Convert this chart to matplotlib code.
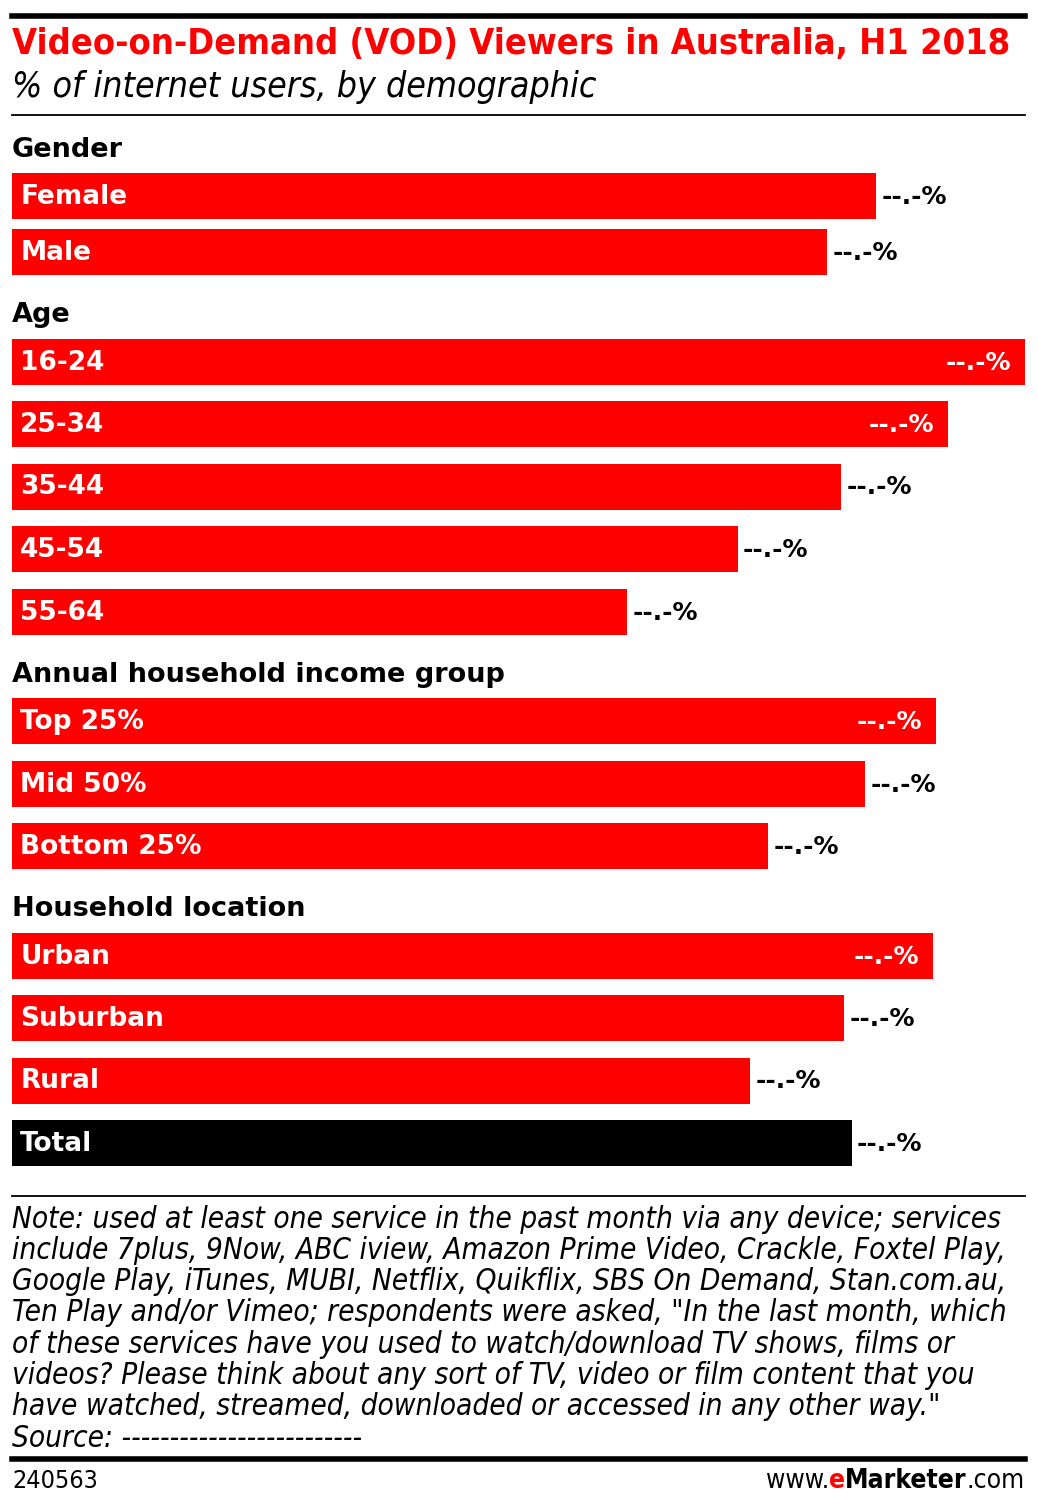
import matplotlib.pyplot as plt

# data
groups = ['Gender', 'Age', 'Annual household income group', 'Household location']
group_labels = [
    ['Female', 'Male'],
    ['16-24', '25-34', '35-44', '45-54', '55-64'],
    ['Top 25%', 'Mid 50%', 'Bottom 25%'],
    ['Urban', 'Suburban', 'Rural'],
]
group_values = [
    [68.2, 64.4],
    [80.0, 73.9, 65.5, 57.3, 48.6],
    [73.0, 67.4, 59.7],
    [72.7, 65.7, 58.3],
]
total_label = 'Total'
total_value = 66.3
value_text = '--.-%'

W, H = 1038, 1508
red = '#ff0000'
narrow = ['Liberation Sans Narrow', 'DejaVu Sans']

fig = plt.figure(figsize=(W / 100, H / 100), dpi=100)
r = fig.canvas.get_renderer()


def fit(t, width_px):
    # shrink a text so it spans width_px (no condensed font available)
    w = t.get_window_extent(r).width
    t.set_fontsize(t.get_fontsize() * width_px / w)


# title block
fig.add_artist(plt.Line2D([12 / W, 1025 / W], [1 - 16 / H] * 2, color='black', lw=4))
t = fig.text(12 / W, 1 - 44 / H, 'Video-on-Demand (VOD) Viewers in Australia, H1 2018',
             color=red, fontsize=27, fontweight='bold', family=narrow, fontstretch='condensed',
             va='center')
fit(t, 998)
t = fig.text(12 / W, 1 - 87 / H, '% of internet users, by demographic',
             color='black', fontsize=26, style='italic', family=narrow, fontstretch='condensed',
             va='center')
fit(t, 586)
fig.add_artist(plt.Line2D([12 / W, 1025 / W], [1 - 115 / H] * 2, color='black', lw=1.3))

# bars, y axis in pixel rows
top, bottom = 130, 1170
ax = fig.add_axes([12 / W, 1 - bottom / H, 1013 / W, (bottom - top) / H])
vmax = max(max(v) for v in group_values)
ax.set_xlim(0, vmax)
ax.set_ylim(bottom, top)
ax.axis('off')

step = 62.5
bar_h = 46


def draw_bar(y, label, value, color):
    ax.barh(y, value, height=bar_h, color=color)
    ax.annotate(label, (0, y + 1), xytext=(6, 0), textcoords='offset points',
                color='white', fontsize=19, fontweight='bold', va='center', ha='left')
    if value > 0.88 * vmax:
        ax.annotate(value_text, (value, y + 1), xytext=(-10, 0), textcoords='offset points',
                    color='white', fontsize=18, fontweight='bold', va='center', ha='right')
    else:
        ax.annotate(value_text, (value, y + 1), xytext=(4, 0), textcoords='offset points',
                    color='black', fontsize=18, fontweight='bold', va='center', ha='left')


y = 149
for g, labels, vals in zip(groups, group_labels, group_values):
    ax.text(0, y + 1, g, fontsize=19.5, fontweight='bold', va='center', ha='left')
    y += 47
    for i, (lab, v) in enumerate(zip(labels, vals)):
        if i > 0:
            y += 56 if g == 'Gender' else step
        draw_bar(y, lab, v, red)
    y += step
draw_bar(y, total_label, total_value, 'black')

# note
fig.add_artist(plt.Line2D([12 / W, 1025 / W], [1 - 1196 / H] * 2, color='black', lw=1.3))
note_lines = [
    'Note: used at least one service in the past month via any device; services',
    'include 7plus, 9Now, ABC iview, Amazon Prime Video, Crackle, Foxtel Play,',
    'Google Play, iTunes, MUBI, Netflix, Quikflix, SBS On Demand, Stan.com.au,',
    'Ten Play and/or Vimeo; respondents were asked, "In the last month, which',
    'of these services have you used to watch/download TV shows, films or',
    'videos? Please think about any sort of TV, video or film content that you',
    'have watched, streamed, downloaded or accessed in any other way."',
    'Source: -------------------------',
]
first = None
for i, line in enumerate(note_lines):
    t = fig.text(12 / W, 1 - (1219 + 31.3 * i) / H, line, fontsize=22, style='italic',
                 family=narrow, fontstretch='condensed', va='center', ha='left')
    if first is None:
        fit(t, 986)
        first = t.get_fontsize()
    else:
        t.set_fontsize(first)
fig.add_artist(plt.Line2D([12 / W, 1025 / W], [1 - 1459 / H] * 2, color='black', lw=4))

# footer
fig.text(12 / W, 1 - 1481 / H, '240563', fontsize=18, family=narrow, fontstretch='condensed',
         va='center')
x = 1025 / W
for txt, col, wt in [('.com', 'black', 'normal'), ('Marketer', 'black', 'bold'),
                     ('e', red, 'bold'), ('www.', 'black', 'normal')]:
    t = fig.text(x, 1 - 1481 / H, txt, fontsize=19, family=narrow, fontstretch='condensed',
                 color=col, fontweight=wt, va='center', ha='right')
    x -= t.get_window_extent(r).width / W

fig.savefig('out.png', dpi=100)
